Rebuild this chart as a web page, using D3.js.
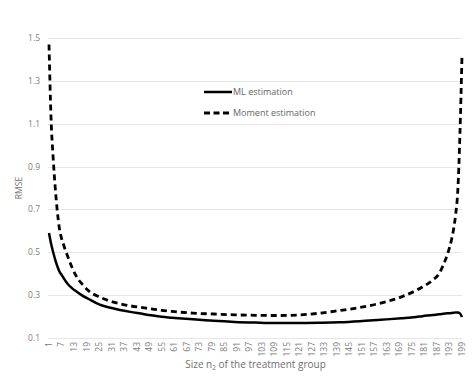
<!DOCTYPE html>
<html>
<head>
<meta charset="utf-8">
<script src="https://cdn.jsdelivr.net/npm/d3@7"></script>
<style>
  body { margin: 0; background: #fff; }
  svg { display: block; }
</style>
</head>
<body>
<div id="chart"></div>
<script>
// Sample sizes n2
const sizes = [1, 2, 3, 4, 5, 6, 7, 8, 9, 10, 12, 14, 17, 20, 25, 30, 35, 40, 45, 50,
  55, 60, 70, 80, 90, 100, 110, 120, 130, 140, 150, 160, 170, 177, 180, 185, 188,
  190, 192, 194, 195, 196, 197, 198, 199];

const mlValues = [0.59, 0.54, 0.50, 0.465, 0.435, 0.41, 0.395, 0.38, 0.365, 0.352,
  0.333, 0.318, 0.298, 0.282, 0.257, 0.242, 0.231, 0.222, 0.214, 0.206,
  0.199, 0.195, 0.187, 0.18, 0.175, 0.172, 0.170, 0.170, 0.171, 0.173,
  0.178, 0.185, 0.192, 0.198, 0.202, 0.207, 0.211,
  0.213, 0.215, 0.217, 0.218, 0.219, 0.219, 0.215, 0.198];

const momentValues = [1.47, 1.12, 0.94, 0.80, 0.69, 0.61, 0.565, 0.535, 0.505, 0.48,
  0.43, 0.39, 0.35, 0.32, 0.292, 0.273, 0.26, 0.25, 0.243, 0.236,
  0.229, 0.224, 0.216, 0.212, 0.208, 0.206, 0.205, 0.207, 0.215, 0.228,
  0.242, 0.263, 0.292, 0.322, 0.338, 0.37, 0.40,
  0.44, 0.49, 0.56, 0.61, 0.68, 0.79, 1.05, 1.42];

const xTicks = [1, 7, 13, 19, 25, 31, 37, 43, 49, 55, 61, 67, 73, 79, 85, 91, 97,
  103, 109, 115, 121, 127, 133, 139, 145, 151, 157, 163, 169, 175, 181, 187, 193, 199];
const yTicks = [0.1, 0.3, 0.5, 0.7, 0.9, 1.1, 1.3, 1.5];

const seriesNames = ['ML estimation', 'Moment estimation'];

const width = 474, height = 386;
const margin = { left: 49, right: 12, top: 38, bottom: 48 };
const font = '"Open Sans", "Segoe UI", sans-serif';

const svg = d3.select('#chart').append('svg')
  .attr('width', width)
  .attr('height', height)
  .style('background', '#fff');

const x = d3.scaleLinear()
  .domain([1, 199])
  .range([margin.left, width - margin.right]);

const y = d3.scaleLinear()
  .domain([0.1, 1.5])
  .range([height - margin.bottom, margin.top]);

// Gridlines
svg.append('g')
  .selectAll('line')
  .data(yTicks)
  .join('line')
  .attr('x1', margin.left - 1)
  .attr('x2', width - margin.right)
  .attr('y1', d => Math.round(y(d)) + 0.5)
  .attr('y2', d => Math.round(y(d)) + 0.5)
  .style('stroke', '#e6e6e6')
  .style('stroke-width', 1.2);

// Y tick labels
svg.append('g')
  .selectAll('text')
  .data(yTicks)
  .join('text')
  .attr('x', 40)
  .attr('y', d => y(d))
  .attr('dy', '0.35em')
  .attr('text-anchor', 'end')
  .style('font-family', font)
  .style('font-size', '8.5px')
  .style('fill', '#808080')
  .text(d => d.toFixed(1));

// X tick labels (rotated)
svg.append('g')
  .selectAll('text')
  .data(xTicks)
  .join('text')
  .attr('transform', d => `translate(${x(d)}, ${height - margin.bottom + 4}) rotate(-90)`)
  .attr('dy', '0.35em')
  .attr('text-anchor', 'end')
  .style('font-family', font)
  .style('font-size', '8.5px')
  .style('fill', '#7a7a7a')
  .text(d => d);

// Axis titles
svg.append('text')
  .attr('transform', `translate(22, ${(margin.top + height - margin.bottom) / 2}) rotate(-90)`)
  .attr('text-anchor', 'middle')
  .style('font-family', font)
  .style('font-size', '8.5px')
  .style('fill', '#707070')
  .text('RMSE');

const xTitle = svg.append('text')
  .attr('x', (margin.left + width - margin.right) / 2)
  .attr('y', 368)
  .attr('text-anchor', 'middle')
  .style('font-family', font)
  .style('font-size', '10px')
  .style('fill', '#707070');
xTitle.append('tspan').text('Size n');
xTitle.append('tspan').attr('dy', 2).style('font-size', '6.5px').text('2');
xTitle.append('tspan').attr('dy', -2).text(' of the treatment group');

// Lines
const line = d3.line()
  .x(d => x(d[0]))
  .y(d => y(d[1]))
  .curve(d3.curveMonotoneX);

svg.append('path')
  .datum(sizes.map((n, i) => [n, mlValues[i]]))
  .attr('d', line)
  .style('fill', 'none')
  .style('stroke', '#000')
  .style('stroke-width', 2.5);

svg.append('path')
  .datum(sizes.map((n, i) => [n, momentValues[i]]))
  .attr('d', line)
  .style('fill', 'none')
  .style('stroke', '#000')
  .style('stroke-width', 2.8)
  .style('stroke-dasharray', '6,4');

// Legend
const legend = svg.append('g').attr('transform', 'translate(204, 92)');
seriesNames.forEach((name, i) => {
  const row = legend.append('g').attr('transform', `translate(0, ${i * 21})`);
  row.append('line')
    .attr('x1', 0)
    .attr('x2', 28)
    .style('stroke', '#000')
    .style('stroke-width', i === 0 ? 2.5 : 2.8)
    .style('stroke-dasharray', i === 0 ? null : '6,3.5');
  row.append('text')
    .attr('x', 29)
    .attr('dy', '0.35em')
    .style('font-family', font)
    .style('font-size', '9px')
    .style('fill', '#666')
    .text(name);
});
</script>
</body>
</html>
